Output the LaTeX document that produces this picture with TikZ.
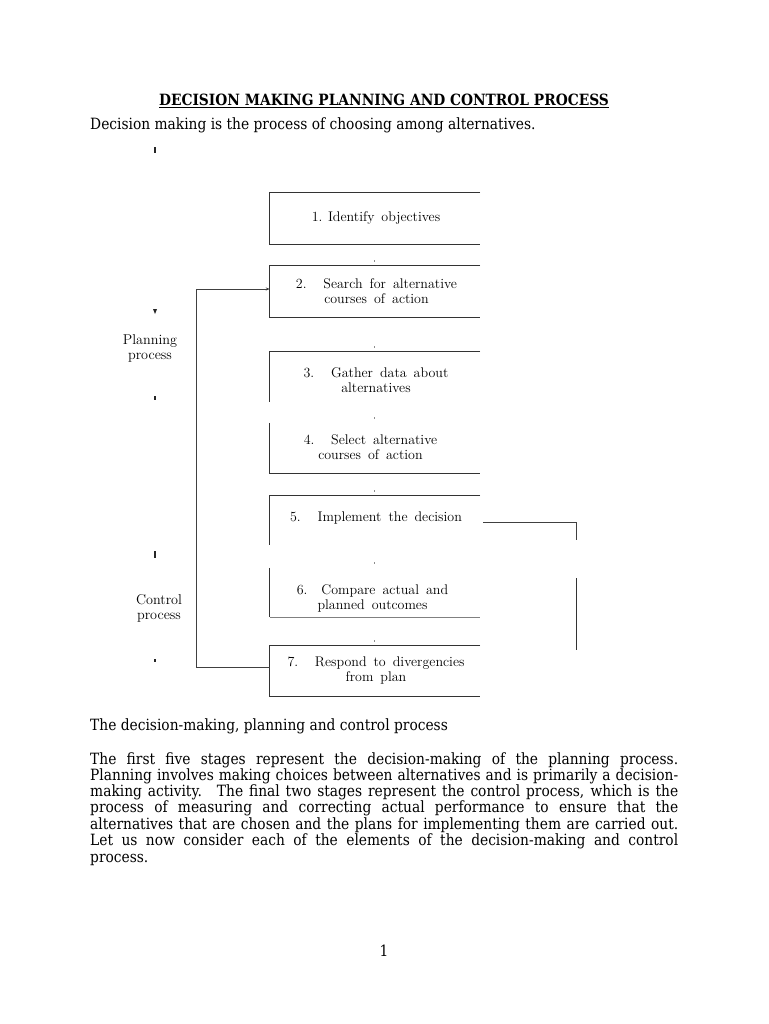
\documentclass[tikz,border=0pt]{standalone}
\usepackage{fontspec}
\usetikzlibrary{arrows.meta}
\newfontfamily\bodyfont{DejaVu Serif}[FakeStretch=0.89]
\newcommand{\dline}[1]{\makebox[588pt][s]{#1}}
\newcommand{\wsp}{\spaceskip=0.5em plus 0.1em\relax}
\begin{document}
\begin{tikzpicture}[x=1pt,y=-1pt,
  body/.style={anchor=base west,inner sep=0pt,font=\bodyfont\fontsize{15.5}{17}\selectfont},
  stagebox/.style={minimum width=210pt,inner sep=0pt},
  stagetext/.style={inner sep=0pt,align=center,font=\fontsize{14}{15}\selectfont\wsp},
  side/.style={align=center,inner sep=0pt,font=\fontsize{14.2}{15}\selectfont},
  ln/.style={line width=1pt,draw=black!80},
  thin/.style={line width=0.8pt,draw=black!75},
  blot/.style={fill=black!85},
  tickmark/.style={fill=black!45}]
\fill[white] (0,0) rectangle (768,1024);
\useasboundingbox (0,0) rectangle (768,1024);
% title and intro
\node[anchor=base,inner sep=0pt,font=\bodyfont\bfseries\fontsize{15.5}{17}\selectfont] (title) at (384,106) {\underline{DECISION MAKING PLANNING AND CONTROL PROCESS}};
\node[body] (intro) at (90,130) {Decision making is the process of choosing among alternatives.};
% stage boxes (sides drawn separately)
\node[stagebox,minimum height=51pt] (b1) at (375,218.5) {};
\node[stagebox,minimum height=51pt] (b2) at (375,291.5) {};
\node[stagebox,minimum height=50pt] (b3) at (375,377) {};
\node[stagebox,minimum height=50pt] (b4) at (375,448) {};
\node[stagebox,minimum height=49pt] (b5) at (375,520.5) {};
\node[stagebox,minimum height=49pt] (b6) at (375,592.5) {};
\node[stagebox,minimum height=50pt] (b7) at (375,671) {};
\node[stagetext] (t1) at (376,218) {1.\hspace{0.4em}Identify objectives};
\node[stagetext] (t2) at (376.5,291.5) {2.\hspace{1.2em}Search for alternative\\courses of action};
\node[stagetext] (t3) at (376,380.5) {3.\hspace{1.2em}Gather data about\\alternatives};
\node[stagetext] (t4) at (370.5,447.5) {4.\hspace{1.2em}Select alternative\\courses of action};
\node[stagetext] (t5) at (376,518) {5.\hspace{1.2em}Implement the decision};
\node[stagetext] (t6) at (372.5,598) {6.\hspace{1em}Compare actual and\\planned outcomes};
\node[stagetext] (t7) at (376,670) {7.\hspace{1.2em}Respond to divergencies\\from plan};
\draw[ln] (b1.north east) -- (b1.north west) -- (b1.south west) -- (b1.south east);
\draw[ln] (b2.north east) -- (b2.north west) -- (b2.south west) -- (b2.south east);
\draw[ln] (b3.north east) -- (b3.north west) -- (b3.south west);
\draw[ln] (b4.north west) -- (b4.south west) -- (b4.south east);
\draw[ln] (b5.north east) -- (b5.north west) -- (b5.south west);
\draw[ln] (b6.north west) -- (b6.south west);
\draw[ln,draw=black!50] (b6.south west) -- (b6.south east);
\draw[ln] (b7.north east) -- (b7.north west) -- (b7.south west) -- (b7.south east);
% side labels
\node[side] (plan) at (150,348.5) {Planning\\process};
\node[side] (ctrl) at (159,608.5) {Control\\process};
% feedback loop
\coordinate (f1) at (196,667);
\coordinate (f2) at (196,289);
\draw[thin,-{Stealth[length=4pt,width=3pt]}] (b7.west |- f1) -- (f1) -- (f2) -- (b2.west |- f2);
% right-hand line
\coordinate (r0) at (483,522);
\coordinate (r1) at (576,522);
\coordinate (r2) at (576,540);
\coordinate (r3) at (576,578);
\coordinate (r4) at (576,650);
\draw[thin] (r0) -- (r1) -- (r2);
\draw[ln] (r3) -- (r4);
% residual marks
\fill[blot] (154,147) rectangle (156,153);
\fill[blot] (153,309) -- (157,309) -- (155,314) -- cycle;
\fill[blot] (154,396) rectangle (156,400);
\fill[blot] (154,551) rectangle (156.4,558);
\fill[blot] (154,659) rectangle (156,661.5);
\foreach \yy in {261,347,418,491,563,641} {\fill[tickmark] (374,\yy-1) rectangle (375,\yy+1);}
% caption and paragraph
\node[body] (cap) at (90,730) {The decision-making, planning and control process};
\node[body] (p1) at (90,764) {\dline{The first five stages represent the decision-making of the planning process.}};
\node[body] (p2) at (90,780) {\dline{Planning involves making choices between alternatives and is primarily a decision-}};
\node[body] (p3) at (90,796) {\dline{making activity.\hspace{0.3em} The final two stages represent the control process, which is the}};
\node[body] (p4) at (90,812.5) {\dline{process of measuring and correcting actual performance to ensure that the}};
\node[body] (p5) at (90,829) {\dline{alternatives that are chosen and the plans for implementing them are carried out.}};
\node[body] (p6) at (90,845.5) {\dline{Let us now consider each of the elements of the decision-making and control}};
\node[body] (p7) at (90,862) {process.};
\node[anchor=base,inner sep=0pt,font=\bodyfont\fontsize{15.5}{17}\selectfont] (pg) at (384,956) {1};
\end{tikzpicture}
\end{document}
